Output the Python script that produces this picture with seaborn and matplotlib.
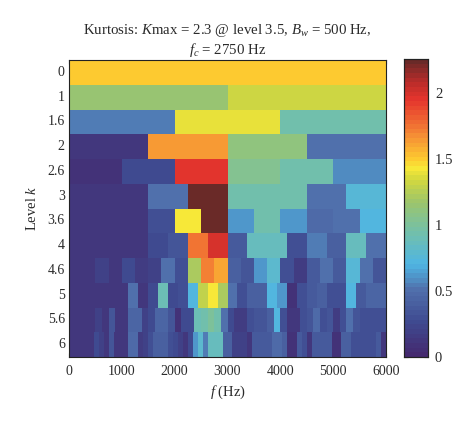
import numpy as np
import pandas as pd
import matplotlib
matplotlib.use("Agg")
import matplotlib.pyplot as plt
from matplotlib.colors import LinearSegmentedColormap, ListedColormap
import seaborn as sns

# Kurtosis per frequency band, one list per decomposition level
level_names = ["0", "1", "1.6", "2", "2.6", "3", "3.6", "4", "4.6", "5", "5.6", "6"]
kurt_0 = [1.49]
kurt_1 = [1.15, 1.32]
kurt_1_6 = [0.55, 1.4, 0.95]
kurt_2 = [0.14, 1.65, 1.12, 0.52]
kurt_2_6 = [0.1, 0.28, 1.95, 1.05, 0.93, 0.58]
kurt_3 = [0.12, 0.12, 0.5, 2.25, 0.93, 0.95, 0.5, 0.75]
kurt_3_6 = [0.12, 0.12, 0.12, 0.3, 1.42, 2.25, 0.62, 0.95, 0.62, 0.48, 0.52, 0.72]
kurt_4 = [0.12, 0.12, 0.12, 0.12, 0.28, 0.33, 1.75, 2.0,
          0.38, 0.85, 0.85, 0.3, 0.55, 0.42, 0.85, 0.52]
kurt_4_6 = [0.12, 0.12, 0.2, 0.12, 0.25, 0.15, 0.2, 0.5, 0.3, 1.2, 1.7, 1.6,
            0.4, 0.35, 0.62, 0.78, 0.3, 0.15, 0.38, 0.5, 0.38, 0.75, 0.5, 0.32]
kurt_5 = [0.12, 0.12, 0.12, 0.12, 0.12, 0.12, 0.5, 0.12,
          0.25, 0.9, 0.25, 0.3, 0.73, 1.28, 1.42, 1.2,
          0.5, 0.3, 0.4, 0.4, 0.72, 0.62, 0.1, 0.3,
          0.38, 0.4, 0.3, 0.3, 0.72, 0.38, 0.45, 0.45]
kurt_5_6 = [0.12, 0.12, 0.12, 0.12, 0.18, 0.12, 0.35, 0.12, 0.12, 0.45, 0.45, 0.18,
            0.25, 0.45, 0.45, 0.35, 0.1, 0.28, 0.28, 0.9, 0.95, 1.0, 0.95, 0.52,
            0.25, 0.15, 0.15, 0.3, 0.35, 0.35, 0.42, 0.72, 0.3, 0.14, 0.12, 0.3,
            0.35, 0.48, 0.3, 0.35, 0.16, 0.3, 0.52, 0.35, 0.3, 0.3, 0.3, 0.3]
kurt_6 = [0.12, 0.12, 0.12, 0.12, 0.12, 0.25, 0.2, 0.12, 0.32, 0.12, 0.12, 0.12,
          0.46, 0.46, 0.15, 0.2, 0.3, 0.4, 0.4, 0.4, 0.3, 0.25, 0.2, 0.12,
          0.25, 0.6, 0.8, 0.55, 0.88, 0.88, 0.88, 0.42,
          0.42, 0.2, 0.2, 0.2, 0.13, 0.38, 0.38, 0.38, 0.38, 0.46, 0.46, 0.42,
          0.1, 0.1, 0.38, 0.3, 0.14, 0.38, 0.38, 0.38, 0.38, 0.1, 0.1, 0.4,
          0.4, 0.3, 0.3, 0.3, 0.3, 0.3, 0.38, 0.12]
levels = [kurt_0, kurt_1, kurt_1_6, kurt_2, kurt_2_6, kurt_3, kurt_3_6,
          kurt_4, kurt_4_6, kurt_5, kurt_5_6, kurt_6]

freq_ticks = [0, 1000, 2000, 3000, 4000, 5000, 6000]
bar_ticks = [0, 0.5, 1, 1.5, 2]
bar_labels = ["0", "0.5", "1", "1.5", "2"]
freq_max = 6000
kurt_max = 2.257

# Every level splits the band differently; 192 columns hold all of the splits
n_cols = 192
grid = np.vstack([np.repeat(row, n_cols // len(row)) for row in levels])
frame = pd.DataFrame(grid, index=level_names)

sns.set_theme(style="white", rc={"axes.grid": False})
plt.rcParams["font.family"] = ["Liberation Serif", "DejaVu Serif"]
plt.rcParams["mathtext.fontset"] = "custom"
plt.rcParams["mathtext.rm"] = "Liberation Serif"
plt.rcParams["mathtext.it"] = "Liberation Serif:italic"
plt.rcParams["mathtext.bf"] = "Liberation Serif:bold"

# Softened jet palette in 64 steps
base = LinearSegmentedColormap.from_list("soft_jet", [
    (0.00, "#44296f"), (0.11, "#3f4a90"), (0.22, "#5070ac"), (0.31, "#4fb5e3"),
    (0.42, "#74c0a8"), (0.52, "#9cc56c"), (0.60, "#d5d93c"), (0.635, "#f7e838"),
    (0.665, "#fdcb30"), (0.75, "#f58a35"), (0.87, "#e5352d"), (0.93, "#b92c2a"),
    (1.00, "#6a2a28"),
])
cmap = ListedColormap(base(np.linspace(0, 1, 64)))

text_color = "#2b2b2b"
fig = plt.figure(figsize=(4.74, 4.22), dpi=100)
W, H = 474, 422
ax = fig.add_axes([69 / W, 1 - 357 / H, 317 / W, 297 / H])
cax = fig.add_axes([404 / W, 1 - 357 / H, 24 / W, 298 / H])

sns.heatmap(frame, ax=ax, cbar_ax=cax, cmap=cmap, vmin=0, vmax=kurt_max,
            xticklabels=False, yticklabels=True, linewidths=0)

ax.set_xticks([f / freq_max * n_cols for f in freq_ticks])
ax.set_xticklabels([str(f) for f in freq_ticks])
for side in ax.spines.values():
    side.set_visible(True)
    side.set_color("#222222")
    side.set_linewidth(0.8)
ax.tick_params(axis="both", which="major", direction="in", length=3, width=0.8,
               top=True, right=True, left=True, bottom=True, color="#222222",
               labelsize=10, labelcolor=text_color, pad=6)
ax.tick_params(axis="y", labelrotation=0, pad=3)
ax.tick_params(axis="x", labelrotation=0)
ax.set_xlabel("$f$ (Hz)", fontsize=10.5, color=text_color, labelpad=4)
ax.set_ylabel("Level $k$", fontsize=10.5, color=text_color, labelpad=6)
ax.set_title("Kurtosis: $K$max = 2.3 @ level 3.5, $B_w$ = 500 Hz,\n$f_c$ = 2750 Hz",
             fontsize=10.7, color=text_color, pad=4)

cax.set_yticks(bar_ticks)
cax.set_yticklabels(bar_labels)
cax.tick_params(axis="y", direction="in", length=3, width=0.8, left=True, right=True,
                color="#222222", labelsize=10.5, labelcolor=text_color, pad=5)
for side in cax.spines.values():
    side.set_visible(True)
    side.set_color("#222222")
    side.set_linewidth(0.8)

fig.savefig("out.png", dpi=100)
